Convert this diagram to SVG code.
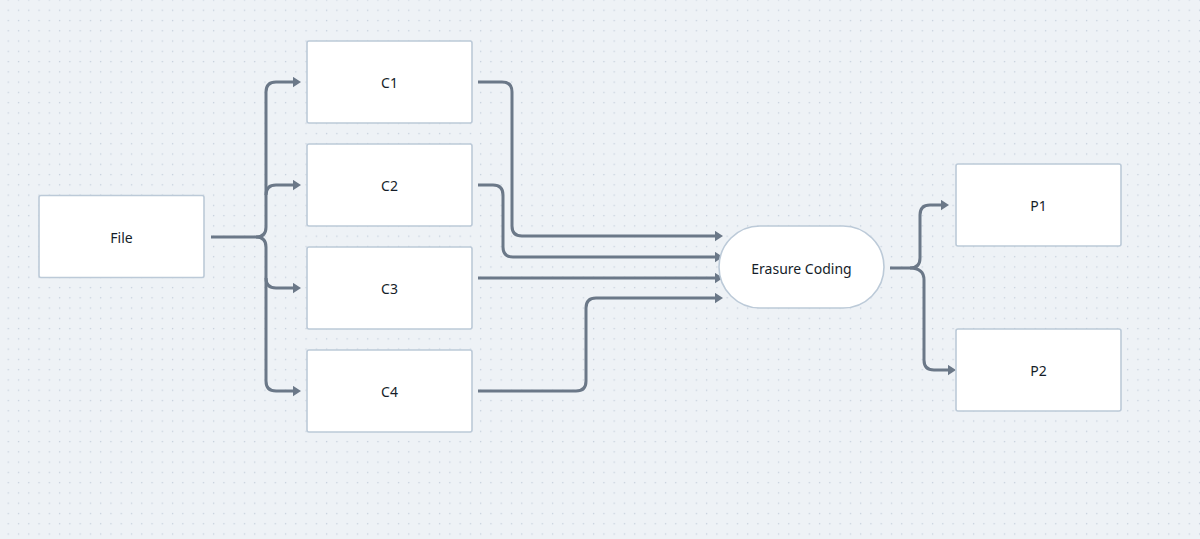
<svg xmlns="http://www.w3.org/2000/svg" width="1200" height="539" viewBox="0 0 1200 539">
<style>
.node{fill:#ffffff;stroke:#bccad8;stroke-width:1.6}
.lbl{font-family:"Noto Sans","DejaVu Sans",sans-serif;font-size:14px;font-weight:400;fill:#151d29;text-anchor:middle;dominant-baseline:central}
.conn{fill:none;stroke:#6b7888;stroke-width:3;stroke-linejoin:round}
</style>
<defs>
<pattern id="dots" width="10.27" height="10.27" patternUnits="userSpaceOnUse" x="3" y="5">
<rect x="4.6" y="4.6" width="1.3" height="1.3" fill="#c6d0dc"/>
</pattern>
<marker id="arr" markerUnits="userSpaceOnUse" markerWidth="9" markerHeight="11" refX="2" refY="5.5" orient="auto">
<path d="M0,0 L8.5,5.5 L0,11 z" fill="#6b7888"/>
</marker>
</defs>
<rect width="1200" height="539" fill="#eef2f6"/>
<rect width="1200" height="539" fill="url(#dots)"/>
<g id="connectors">
<path class="conn" d="M211,237 H256 Q266,237 266,227 V92 Q266,82 276,82 H294.5" marker-end="url(#arr)"/>
<path class="conn" d="M266,195 Q266,185 276,185 H294.5" marker-end="url(#arr)"/>
<path class="conn" d="M256,237 Q266,237 266,247 V278 Q266,288 276,288 H294.5" marker-end="url(#arr)"/>
<path class="conn" d="M266,278 V381 Q266,391 276,391 H294.5" marker-end="url(#arr)"/>
<path class="conn" d="M478,82 H502 Q512,82 512,92 V226 Q512,236 522,236 H716.5" marker-end="url(#arr)"/>
<path class="conn" d="M478,185 H493 Q503,185 503,195 V247 Q503,257 513,257 H716.5" marker-end="url(#arr)"/>
<path class="conn" d="M478,278 H716.5" marker-end="url(#arr)"/>
<path class="conn" d="M478,391 H576 Q586,391 586,381 V308 Q586,298 596,298 H716.5" marker-end="url(#arr)"/>
<path class="conn" d="M890,268 H910 Q920,268 920,258 V215 Q920,205 930,205 H942.5" marker-end="url(#arr)"/>
<path class="conn" d="M910,268 Q924,268 924,280 V360 Q924,370 934,370 H949.5" marker-end="url(#arr)"/>
</g>
<g id="file"><rect class="node" x="39" y="195.5" width="165" height="82" rx="2"/><text class="lbl" x="121.5" y="237">File</text></g>
<g id="c1"><rect class="node" x="307" y="41" width="165" height="82" rx="2"/><text class="lbl" x="389.5" y="82">C1</text></g>
<g id="c2"><rect class="node" x="307" y="144" width="165" height="82" rx="2"/><text class="lbl" x="389.5" y="185">C2</text></g>
<g id="c3"><rect class="node" x="307" y="247" width="165" height="82" rx="2"/><text class="lbl" x="389.5" y="288">C3</text></g>
<g id="c4"><rect class="node" x="307" y="350" width="165" height="82" rx="2"/><text class="lbl" x="389.5" y="391">C4</text></g>
<g id="erasure"><rect class="node" x="719" y="226" width="165" height="82" rx="41"/><text class="lbl" x="801.5" y="268">Erasure Coding</text></g>
<g id="p1"><rect class="node" x="956" y="164" width="165" height="82" rx="2"/><text class="lbl" x="1038.5" y="205">P1</text></g>
<g id="p2"><rect class="node" x="956" y="329" width="165" height="82" rx="2"/><text class="lbl" x="1038.5" y="370">P2</text></g>
</svg>
